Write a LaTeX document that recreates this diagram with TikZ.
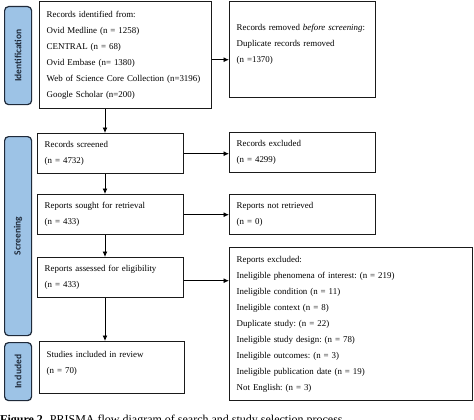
\documentclass[tikz,border=0pt]{standalone}
\usepackage{fontspec}
\setmainfont{Liberation Serif}
\newfontfamily\phasefont{Carlito}
\usetikzlibrary{arrows.meta}
\definecolor{phasefill}{HTML}{9DC3E6}
\definecolor{phasedraw}{HTML}{1F2A3A}
\definecolor{boxline}{HTML}{1A1A1A}
\tikzset{
  box/.style={draw=boxline, line width=1.4pt, inner xsep=7pt, inner ysep=0pt,
    align=left, anchor=north west, font=\fontsize{8.9}{16}\selectfont\frenchspacing},
  phase/.style={draw=phasedraw, fill=phasefill, line width=1.2pt, rounded corners=4pt,
    anchor=north west, inner sep=0pt, minimum width=27pt},
  phasetext/.style={rotate=90, font=\phasefont\bfseries\fontsize{9.5}{10}\selectfont, text=phasedraw},
  arr/.style={draw=black, line width=0.9pt, -{Latex[length=5.5pt,width=5pt]}}
}
\begin{document}
\begin{tikzpicture}[x=1pt,y=-1pt]
\useasboundingbox (0,0) rectangle (474,420);
\clip (0,0) rectangle (474,420);

% phase labels
\node[phase, minimum height=98pt] (pid) at (4,6) {};
\node[phasetext] (pidt) at (pid.center) {Identification};
\node[phase, minimum height=199pt] (psc) at (4,136) {};
\node[phasetext] (psct) at (psc.center) {Screening};
\node[phase, minimum height=58pt] (pin) at (4,342) {};
\node[phasetext] (pint) at (pin.center) {Included};

% boxes
\node[box, text width=158pt, minimum height=107pt] (ident) at (39,1) {%
Records identified from:\\
Ovid Medline (n = 1258)\\
CENTRAL (n = 68)\\
Ovid Embase (n= 1380)\\
Web of Science Core Collection (n=3196)\\
Google Scholar (n=200)};

\node[box, text width=132pt, minimum height=96pt] (removed) at (229,1) {%
Records removed \textit{before screening}:\\
Duplicate records removed\\
(n =1370)\rule[-12pt]{0pt}{12pt}};

\node[box, text width=132pt, minimum height=40pt] (screened) at (37,133) {%
Records screened\\
(n = 4732)};

\node[box, text width=132pt, minimum height=40pt] (excluded) at (229,132) {%
Records excluded\\
(n = 4299)};

\node[box, text width=132pt, minimum height=40pt] (sought) at (37,194) {%
Reports sought for retrieval\\
(n = 433)};

\node[box, text width=132pt, minimum height=40pt] (notretr) at (229,194) {%
Reports not retrieved\\
(n = 0)};

\node[box, text width=132pt, minimum height=40pt] (assessed) at (37,257) {%
Reports assessed for eligibility\\
(n = 433)};

\node[box, text width=229pt, minimum height=153pt] (repexcl) at (229,247) {%
Reports excluded:\\
Ineligible phenomena of interest: (n = 219)\\
Ineligible condition (n = 11)\\
Ineligible context (n = 8)\\
Duplicate study: (n = 22)\\
Ineligible study design: (n = 78)\\
Ineligible outcomes: (n = 3)\\
Ineligible publication date (n = 19)\\
Not English: (n = 3)};

\node[box, text width=131pt, minimum height=52pt] (included) at (39,341) {%
Studies included in review\\
(n = 70)\rule[-10pt]{0pt}{10pt}};

% caption (cut by the lower edge, as in the reference)
\node[anchor=base west, inner sep=0pt, font=\fontsize{12}{14}\selectfont] (caption) at (0,423)
  {\textbf{Figure 2.} PRISMA flow diagram of search and study selection process.};

% connectors
\coordinate (ax) at (105,0);
\draw[arr] ([yshift=-4.5pt]ident.east) -- ([yshift=-4.5pt]ident.east -| removed.west);
\draw[arr] (ident.south -| ax) -- (screened.north -| ax);
\draw[arr] (screened.east) -- (screened.east -| excluded.west);
\draw[arr] (screened.south -| ax) -- (sought.north -| ax);
\draw[arr] (sought.east) -- (sought.east -| notretr.west);
\draw[arr] (sought.south -| ax) -- (assessed.north -| ax);
\draw[arr] ([yshift=-3pt]assessed.east) -- ([yshift=-3pt]assessed.east -| repexcl.west);
\draw[arr] (assessed.south -| ax) -- (included.north -| ax);
\end{tikzpicture}
\end{document}
